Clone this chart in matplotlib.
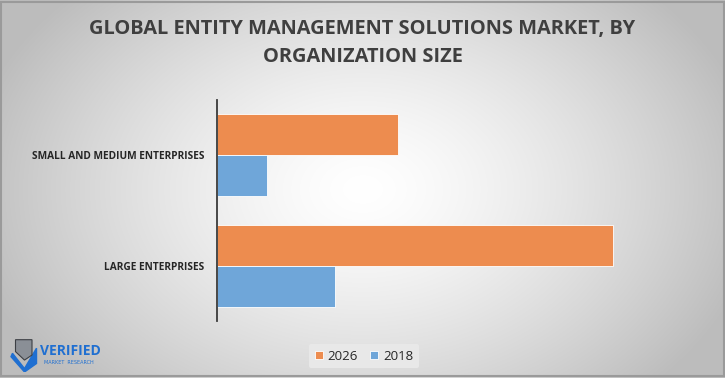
import numpy as np
import matplotlib
matplotlib.use("Agg")
import matplotlib.pyplot as plt

categories = ["SMALL AND MEDIUM ENTERPRISES", "LARGE ENTERPRISES"]
series_names = ["2026", "2018"]
values_2026 = [1.83, 4.0]
values_2018 = [0.50, 1.19]
colors = ["#ED8C4F", "#6FA6D9"]

FONT = ["Open Sans", "DejaVu Sans"]

W, H = 725, 378
fig = plt.figure(figsize=(W / 100, H / 100), dpi=100)

# background radial gradient
bg = fig.add_axes([0, 0, 1, 1], zorder=-10)
yy, xx = np.mgrid[0:H, 0:W]
r = np.sqrt(((xx - W * 0.5) / (W * 0.55)) ** 2 + ((yy - H * 0.5) / (H * 0.75)) ** 2)
v = np.clip(1.0 - 0.26 * r ** 1.4, 0.74, 1.0)
img = np.dstack([v, v, v])
bg.imshow(img, aspect="auto", extent=[0, 1, 0, 1], origin="upper")
bg.set_xlim(0, 1)
bg.set_ylim(0, 1)
bg.axis("off")
bg.add_patch(plt.Rectangle((0.002, 0.004), 0.996, 0.992, fill=False,
                           edgecolor="#9a9a9a", linewidth=1.5, transform=bg.transAxes))

ax = fig.add_axes([217 / W, 1 - 321 / H, 423 / W, 221 / H])
ax.patch.set_alpha(0)
y = np.arange(len(categories))
h = 0.373
ax.barh(y - h / 2, values_2026, height=h, color=colors[0], edgecolor="white",
        linewidth=0.6, label=series_names[0])
ax.barh(y + h / 2, values_2018, height=h, color=colors[1], edgecolor="white",
        linewidth=0.6, label=series_names[1])
ax.set_ylim(1.5, -0.5)
ax.set_xlim(0, 4.27)
ax.set_yticks(y)
ax.set_yticklabels(categories, fontsize=7.3, fontweight="bold", color="#262626",
                   family=FONT)
ax.tick_params(axis="y", length=0, pad=9)
ax.set_xticks([])
for s in ["top", "right", "bottom"]:
    ax.spines[s].set_visible(False)
ax.spines["left"].set_color("#3a3a3a")
ax.spines["left"].set_linewidth(1.3)

fig.text(0.5, 1 - 43 / H, "GLOBAL ENTITY MANAGEMENT SOLUTIONS MARKET, BY\nORGANIZATION SIZE",
         ha="center", va="center", fontsize=14.4, fontweight="bold", color="#3f3f3f",
         family=FONT, linespacing=1.55)

leg = fig.legend(loc="center", bbox_to_anchor=(364 / W, 1 - 356 / H), ncol=2,
                 frameon=True, handlelength=0.6, handleheight=0.6,
                 handletextpad=0.4, columnspacing=0.9, borderpad=0.45,
                 prop={"family": FONT, "size": 9.5})
leg.get_frame().set_facecolor("#e8e8e8")
leg.get_frame().set_edgecolor("none")
leg.get_frame().set_alpha(1)
for t in leg.get_texts():
    t.set_color("#262626")

# logo
fig.text(40 / W, 1 - 351 / H, "VERIFIED", fontsize=10, fontweight="bold",
         color="#1f6fd1", ha="left", va="center", family=FONT)
fig.text(44 / W, 1 - 362 / H, "MARKET  RESEARCH", fontsize=3.5, color="#1f6fd1",
         ha="left", va="center")
logo = fig.add_axes([8 / W, 1 - 372 / H, 30 / W, 34 / H])
logo.set_xlim(0, 1)
logo.set_ylim(0, 1)
logo.axis("off")
logo.add_patch(plt.Polygon([[0.15, 0.55], [0.55, 0.1], [0.95, 0.7], [0.95, 0.25], [0.55, 0.0], [0.1, 0.45]],
                           closed=True, color="#1f6fd1"))
logo.add_patch(plt.Polygon([[0.25, 0.95], [0.8, 0.95], [0.8, 0.5], [0.55, 0.35], [0.25, 0.6]],
                           closed=True, facecolor="#8a8f96", edgecolor="#3c3f44", linewidth=0.8))

fig.savefig("out.png", dpi=100)
